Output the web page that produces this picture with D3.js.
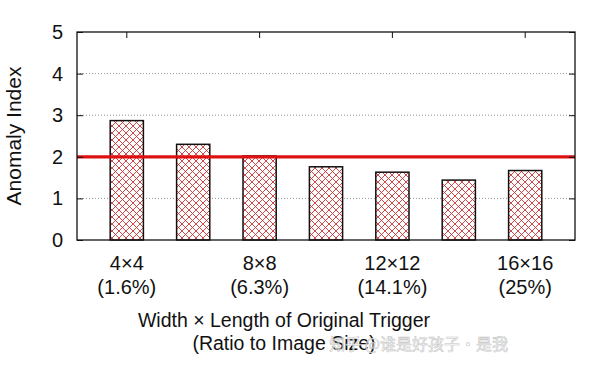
<!DOCTYPE html>
<html>
<head>
<meta charset="utf-8">
<script src="https://cdn.jsdelivr.net/npm/d3@7"></script>
<style>
body { margin: 0; background: #fff; }
svg text { font-family: "Liberation Sans", Arial, sans-serif; fill: #111; }
</style>
</head>
<body>
<div class="chart"></div>
<script>
var width = 600, height = 368
var margin = {top: 32, right: 25, bottom: 128, left: 77}

// data
var categories = ["4x4", "6x6", "8x8", "10x10", "12x12", "14x14", "16x16"]
var values = [2.87, 2.30, 2.02, 1.76, 1.63, 1.44, 1.67]
var tickCats = ["4x4", "8x8", "12x12", "16x16"]
var tickLine1 = ["4\u00d74", "8\u00d78", "12\u00d712", "16\u00d716"]
var tickLine2 = ["(1.6%)", "(6.3%)", "(14.1%)", "(25%)"]
var yTicks = [0, 1, 2, 3, 4, 5]
var threshold = 2

const svg = d3.select('.chart')
    .append('svg')
    .attr("width", width)
    .attr("height", height)

var p = 7
var defs = svg.append("defs")
var pat = defs.append("pattern")
    .attr("id", "hatch")
    .attr("patternUnits", "userSpaceOnUse")
    .attr("width", p)
    .attr("height", p)
pat.append("rect").attr("width", p).attr("height", p).attr("fill", "#fff")
pat.append("path")
    .attr("d", "M0,0 L" + p + "," + p + " M" + p + ",0 L0," + p +
        " M-1," + (p - 1) + " L1," + (p + 1) + " M" + (p - 1) + ",-1 L" + (p + 1) + ",1" +
        " M-1,1 L1,-1 M" + (p - 1) + "," + (p + 1) + " L" + (p + 1) + "," + (p - 1))
    .attr("stroke", "#cc3333")
    .attr("stroke-width", 0.9)

var x = d3.scaleBand()
    .domain(categories)
    .range([margin.left, width - margin.right])
    .padding(0.5)

var y = d3.scaleLinear()
    .domain([0, 5])
    .range([height - margin.bottom, margin.top])

var x0 = margin.left, x1 = width - margin.right
var y0 = height - margin.bottom, y1 = margin.top

// dotted grid
svg.append("g")
    .selectAll("line")
    .data(yTicks.filter(function(d){ return d > 0 && d < 5 }))
    .enter()
    .append("line")
    .attr("x1", x0).attr("x2", x1)
    .attr("y1", function(d){ return y(d) }).attr("y2", function(d){ return y(d) })
    .attr("stroke", "#777")
    .attr("stroke-width", 0.8)
    .attr("stroke-dasharray", "1,2")

// bars
svg.append("g")
    .selectAll("rect")
    .data(values)
    .enter()
    .append("rect")
    .attr("x", function(d, i){ return x(categories[i]) })
    .attr("width", x.bandwidth())
    .attr("y", function(d){ return y(d) })
    .attr("height", function(d){ return y(0) - y(d) })
    .attr("fill", "url(#hatch)")
    .attr("stroke", "#111")
    .attr("stroke-width", 1.5)

// threshold
svg.append("line")
    .attr("x1", x0).attr("x2", x1)
    .attr("y1", y(threshold)).attr("y2", y(threshold))
    .attr("stroke", "#dd1111")
    .attr("stroke-width", 3.2)

// frame
svg.append("rect")
    .attr("x", x0).attr("y", y1)
    .attr("width", x1 - x0).attr("height", y0 - y1)
    .attr("fill", "none")
    .attr("stroke", "#111")
    .attr("stroke-width", 1.3)

// y axis (ticks inside, mirrored right)
var yAxis = d3.axisLeft(y).tickValues(yTicks).tickFormat(d3.format("d")).tickSize(-6).tickPadding(14)
var ga = svg.append("g").attr("transform", "translate(" + x0 + ",0)").call(yAxis)
ga.select(".domain").remove()
ga.selectAll("text").style("font-size", "20px").attr("fill", "#111")
ga.selectAll("line").attr("stroke", "#111")

var yAxisR = d3.axisRight(y).tickValues(yTicks).tickSize(-6).tickFormat("")
var gr = svg.append("g").attr("transform", "translate(" + x1 + ",0)").call(yAxisR)
gr.select(".domain").remove()
gr.selectAll("line").attr("stroke", "#111")

// top ticks
svg.append("g")
    .selectAll("line")
    .data(tickCats)
    .enter()
    .append("line")
    .attr("x1", function(d){ return x(d) + x.bandwidth() / 2 })
    .attr("x2", function(d){ return x(d) + x.bandwidth() / 2 })
    .attr("y1", y1).attr("y2", y1 + 6)
    .attr("stroke", "#111")

// x labels
var xl = svg.append("g")
    .selectAll("text")
    .data(tickCats)
    .enter()
    .append("text")
    .attr("text-anchor", "middle")
    .style("font-size", "20px")
xl.append("tspan")
    .attr("x", function(d){ return x(d) + x.bandwidth() / 2 })
    .attr("y", 270)
    .text(function(d, i){ return tickLine1[i] })
xl.append("tspan")
    .attr("x", function(d){ return x(d) + x.bandwidth() / 2 })
    .attr("y", 294)
    .text(function(d, i){ return tickLine2[i] })

// axis titles
svg.append("text")
    .attr("x", 284).attr("y", 327)
    .attr("text-anchor", "middle")
    .style("font-size", "19.5px")
    .text("Width \u00d7 Length of Original Trigger")
svg.append("text")
    .attr("x", 284).attr("y", 350)
    .attr("text-anchor", "middle")
    .style("font-size", "19.5px")
    .text("(Ratio to Image Size)")

svg.append("text")
    .attr("transform", "translate(21," + ((y0 + y1) / 2) + ") rotate(-90)")
    .attr("text-anchor", "middle")
    .style("font-size", "21px")
    .text("Anomaly Index")

// watermark
svg.append("text")
    .attr("x", 508).attr("y", 350)
    .attr("text-anchor", "end")
    .style("font-family", "'Noto Sans CJK SC', sans-serif")
    .style("font-size", "16px")
    .style("fill", "#fff")
    .style("stroke", "#bbb")
    .style("stroke-width", 0.6)
    .style("opacity", 0.85)
    .text("知乎 @谁是好孩子·是我")
</script>
</body>
</html>
